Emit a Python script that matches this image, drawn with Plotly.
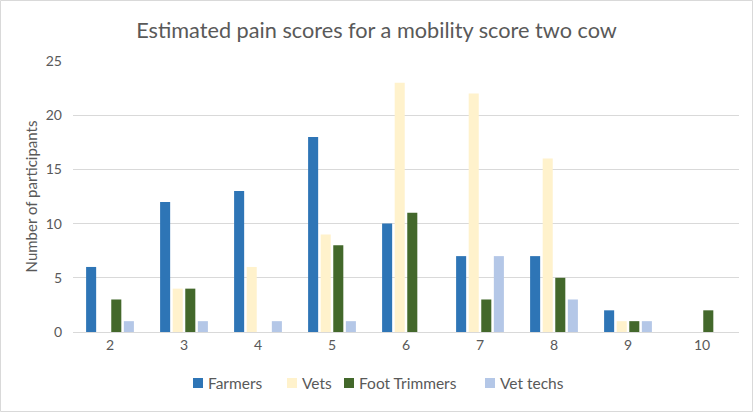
import plotly.graph_objects as go

categories = ["2", "3", "4", "5", "6", "7", "8", "9", "10"]
farmers = [6, 12, 13, 18, 10, 7, 7, 2, 0]
vets = [0, 4, 6, 9, 23, 22, 16, 1, 0]
foot_trimmers = [3, 4, 0, 8, 11, 3, 5, 1, 2]
vet_techs = [1, 1, 1, 1, 0, 7, 3, 1, 0]

series_names = ["Farmers", "Vets", "Foot Trimmers", "Vet techs"]
series_values = [farmers, vets, foot_trimmers, vet_techs]
series_colors = ["#2E75B6", "#FFF2CC", "#43682B", "#B4C7E7"]

fig = go.Figure()
for name, vals, color in zip(series_names, series_values, series_colors):
    fig.add_trace(go.Bar(x=categories, y=vals, name=name, marker_color=color,
                         marker_line_width=0, showlegend=False))

W, H = 753, 412
ml, mr, mt, mb = 73, 14, 61, 80
pw, ph = W - ml - mr, H - mt - mb


def px_x(p):
    return (p - ml) / pw


def px_y(p):
    return (H - mb - p) / ph


# legend drawn manually (pixel layout)
legend_marker_x = [193, 287, 344, 485]
legend_y = 383
shapes = [dict(type="rect", xref="paper", yref="paper",
               x0=px_x(0.5), x1=px_x(W - 0.5), y0=px_y(H - 0.5), y1=px_y(0.5),
               line=dict(color="#D9D9D9", width=1), layer="below")]
annotations = []
for name, color, mx in zip(series_names, series_colors, legend_marker_x):
    shapes.append(dict(type="rect", xref="paper", yref="paper",
                       x0=px_x(mx), x1=px_x(mx + 10),
                       y0=px_y(legend_y + 5), y1=px_y(legend_y - 5),
                       fillcolor=color, line=dict(width=0)))
    annotations.append(dict(text=name, xref="paper", yref="paper",
                            x=px_x(mx + 13), y=px_y(legend_y), xanchor="left",
                            yanchor="middle", showarrow=False,
                            font=dict(size=15.5, color="#595959")))

fig.update_layout(
    width=W, height=H,
    margin=dict(l=ml, r=mr, t=mt, b=mb),
    paper_bgcolor="white", plot_bgcolor="white",
    font=dict(family="Lato, Liberation Sans, sans-serif", color="#595959", size=14),
    title=dict(text="Estimated pain scores for a mobility score two cow",
               x=0.5, xanchor="center", y=1 - 30 / H, yanchor="middle",
               font=dict(size=21.7, color="#595959")),
    barmode="group", bargap=0.32, bargroupgap=0.2,
    showlegend=False,
    xaxis=dict(type="category", showgrid=False, showline=True, linecolor="#D9D9D9",
               linewidth=1, ticks="", tickfont=dict(size=14, color="#595959")),
    yaxis=dict(range=[0, 25], dtick=5, showgrid=True, gridcolor="#D9D9D9",
               gridwidth=1, zeroline=False, showline=False, ticks="",
               ticklabelstandoff=10,
               title=dict(text="Number of participants", font=dict(size=15, color="#595959"),
                          standoff=4),
               tickfont=dict(size=14, color="#595959")),
    shapes=shapes,
    annotations=annotations,
)

fig.write_html("out.html")
